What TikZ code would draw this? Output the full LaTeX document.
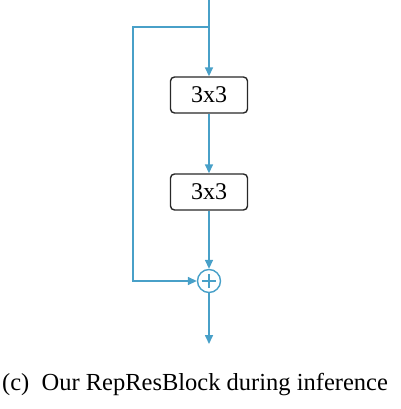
\documentclass[tikz,border=0pt]{standalone}
\usepackage{fontspec}
\setmainfont{Liberation Serif}
\usetikzlibrary{arrows.meta}
\definecolor{lineblue}{RGB}{72,160,200}
\definecolor{boxgray}{RGB}{40,40,40}
\begin{document}
\begin{tikzpicture}[x=1pt,y=-1pt,
  conv/.style={draw=boxgray,line width=1.4pt,rounded corners=4pt,minimum width=77pt,minimum height=36pt,inner sep=0pt,font=\fontsize{24}{26}\selectfont},
  flow/.style={draw=lineblue,line width=1.6pt,-{Triangle[length=9pt,width=8pt]}},
  plain/.style={draw=lineblue,line width=1.6pt},
  addop/.style={circle,draw=lineblue,line width=1.4pt,minimum size=23pt,inner sep=0pt}]
\useasboundingbox (0,0) rectangle (400,409);
\coordinate (top) at (209,0);
\coordinate (split) at (209,27);
\coordinate (lc1) at (133,27);
\coordinate (lc2) at (133,281);
\node[conv] (b1) at (209,95) {3x3};
\node[conv] (b2) at (209,192) {3x3};
\node[addop] (add) at (209,281) {};
\draw[lineblue,line width=1.2pt] ([xshift=-7pt]add.center) -- ([xshift=7pt]add.center) ([yshift=-7pt]add.center) -- ([yshift=7pt]add.center);
\coordinate (out) at (209,344);
\draw[plain] (top) -- (split);
\draw[flow] (split) -- (b1.north);
\draw[flow] (b1.south) -- (b2.north);
\draw[flow] (b2.south) -- (add.north);
\draw[flow] (split) -- (lc1) -- (lc2) -- (add.west);
\draw[flow] (add.south) -- (out);
\node[anchor=west,inner sep=0pt,font=\fontsize{24.5}{27}\selectfont] (cap) at (2,385) {(c)\ \ Our RepResBlock during inference};
\end{tikzpicture}
\end{document}
